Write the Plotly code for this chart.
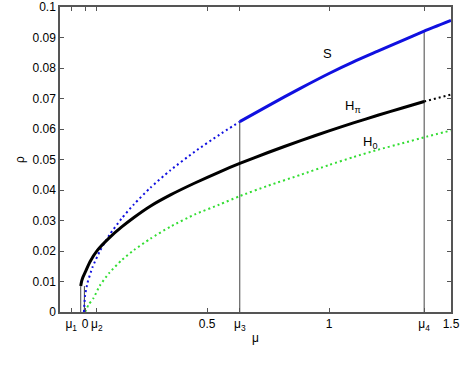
import plotly.graph_objects as go

# ---- data ----
s_dot_mu = [-0.005, 0.0, 0.01, 0.03, 0.06, 0.1, 0.15, 0.2, 0.267, 0.35, 0.45, 0.55, 0.634]
s_dot_rho = [0, 0.0055, 0.0096, 0.0146, 0.0199, 0.0253, 0.0307, 0.0353, 0.0407, 0.0465, 0.0526, 0.0581, 0.0624]
s_sol_mu = [0.634, 0.75, 0.884, 1.0, 1.1, 1.2, 1.3, 1.39, 1.5]
s_sol_rho = [0.0624, 0.0676, 0.0734, 0.0782, 0.0820, 0.0855, 0.0890, 0.0921, 0.0956]

hpi_mu = [-0.018, -0.014, -0.008, 0.0, 0.02, 0.05, 0.1, 0.15, 0.2, 0.267, 0.35, 0.45,
          0.55, 0.634, 0.75, 0.884, 1.0, 1.1, 1.2, 1.3, 1.39]
hpi_rho = [0.0085, 0.0102, 0.0116, 0.0130, 0.0165, 0.0202, 0.0244, 0.0279, 0.0310, 0.0347, 0.0384,
           0.0423, 0.0459, 0.0487, 0.0523, 0.0562, 0.0594, 0.0620, 0.0645, 0.0669, 0.0690]
hpi_dot_mu = [1.39, 1.45, 1.5]
hpi_dot_rho = [0.0690, 0.0702, 0.0713]

h0_mu = [0.0, 0.015, 0.034, 0.06, 0.1, 0.15, 0.2, 0.267, 0.35, 0.45, 0.55, 0.634, 0.75,
         0.884, 1.0, 1.1, 1.2, 1.3, 1.4, 1.5]
h0_rho = [0, 0.0025, 0.0045, 0.0086, 0.0129, 0.0170, 0.0203, 0.0240, 0.0280, 0.0320, 0.0352,
          0.0380, 0.0414, 0.0450, 0.0482, 0.0508, 0.0532, 0.0553, 0.0575, 0.0595]

# special parameter values
mu1, mu0line, mu3, mu4 = -0.018, -0.003, 0.634, 1.39
rho_low = 0.0085
s_at_mu3, s_at_mu4 = 0.0624, 0.0921

xtick_vals = [-0.057, 0, 0.048, 0.5, 0.634, 1, 1.39, 1.5]
xtick_text = ["μ<sub>1</sub>", "0", "μ<sub>2</sub>", "0.5", "μ<sub>3</sub>", "1", "μ<sub>4</sub>", "1.5"]
ytick_vals = [0, 0.01, 0.02, 0.03, 0.04, 0.05, 0.06, 0.07, 0.08, 0.09, 0.1]
ytick_text = ["0", "0.01", "0.02", "0.03", "0.04", "0.05", "0.06", "0.07", "0.08", "0.09", "0.1"]

BLUE = "#1010e0"
GREEN = "#33dd33"
THIN = "#444444"

fig = go.Figure()

# thin vertical guide lines
for xv, yv in [(mu1, rho_low), (mu0line, rho_low), (mu3, s_at_mu3), (mu4, s_at_mu4)]:
    fig.add_trace(go.Scatter(x=[xv, xv], y=[0, yv], mode="lines",
                             line=dict(color=THIN, width=1), hoverinfo="skip"))

fig.add_trace(go.Scatter(x=h0_mu, y=h0_rho, mode="lines",
                         line=dict(color=GREEN, width=2, dash="2px,3px", shape="spline", smoothing=0.6)))
fig.add_trace(go.Scatter(x=s_dot_mu, y=s_dot_rho, mode="lines",
                         line=dict(color=BLUE, width=2, dash="2px,3px", shape="spline", smoothing=0.6)))
fig.add_trace(go.Scatter(x=s_sol_mu, y=s_sol_rho, mode="lines",
                         line=dict(color=BLUE, width=3, shape="spline", smoothing=0.6)))
fig.add_trace(go.Scatter(x=hpi_mu, y=hpi_rho, mode="lines",
                         line=dict(color="black", width=3, shape="spline", smoothing=0.6)))
fig.add_trace(go.Scatter(x=hpi_dot_mu, y=hpi_dot_rho, mode="lines",
                         line=dict(color="black", width=2, dash="2px,3px")))

FONT = "Liberation Sans, Arial, sans-serif"
fig.add_annotation(x=0.995, y=0.0847, text="S", showarrow=False,
                   font=dict(family=FONT, size=13, color="black"))
fig.add_annotation(x=1.1, y=0.0675, text="H<sub>π</sub>", showarrow=False,
                   font=dict(family=FONT, size=13, color="black"))
fig.add_annotation(x=1.168, y=0.0555, text="H<sub>0</sub>", showarrow=False,
                   font=dict(family=FONT, size=13, color="black"))

axis_common = dict(showline=True, linecolor="#555555", linewidth=1.5, mirror="ticks",
                   ticks="inside", ticklen=4, tickcolor="#555555", showgrid=False,
                   zeroline=False, automargin=False, ticklabeloverflow="allow",
                   tickfont=dict(family=FONT, size=12, color="black"))

fig.update_xaxes(range=[-0.103, 1.5], tickvals=xtick_vals, ticktext=xtick_text,
                 title=dict(text="μ", font=dict(family=FONT, size=12, color="black"), standoff=2),
                 **axis_common)
fig.update_yaxes(range=[0, 0.100001], tickvals=ytick_vals, ticktext=ytick_text,
                 title=dict(text="ρ", font=dict(family=FONT, size=12, color="black"), standoff=5),
                 **axis_common)

fig.update_layout(width=474, height=368, showlegend=False,
                  margin=dict(l=60, r=23, t=7, b=56, autoexpand=False),
                  plot_bgcolor="white", paper_bgcolor="white")

fig.write_html("out.html", config={"displayModeBar": False},
               post_script="document.body.style.margin='0';")
